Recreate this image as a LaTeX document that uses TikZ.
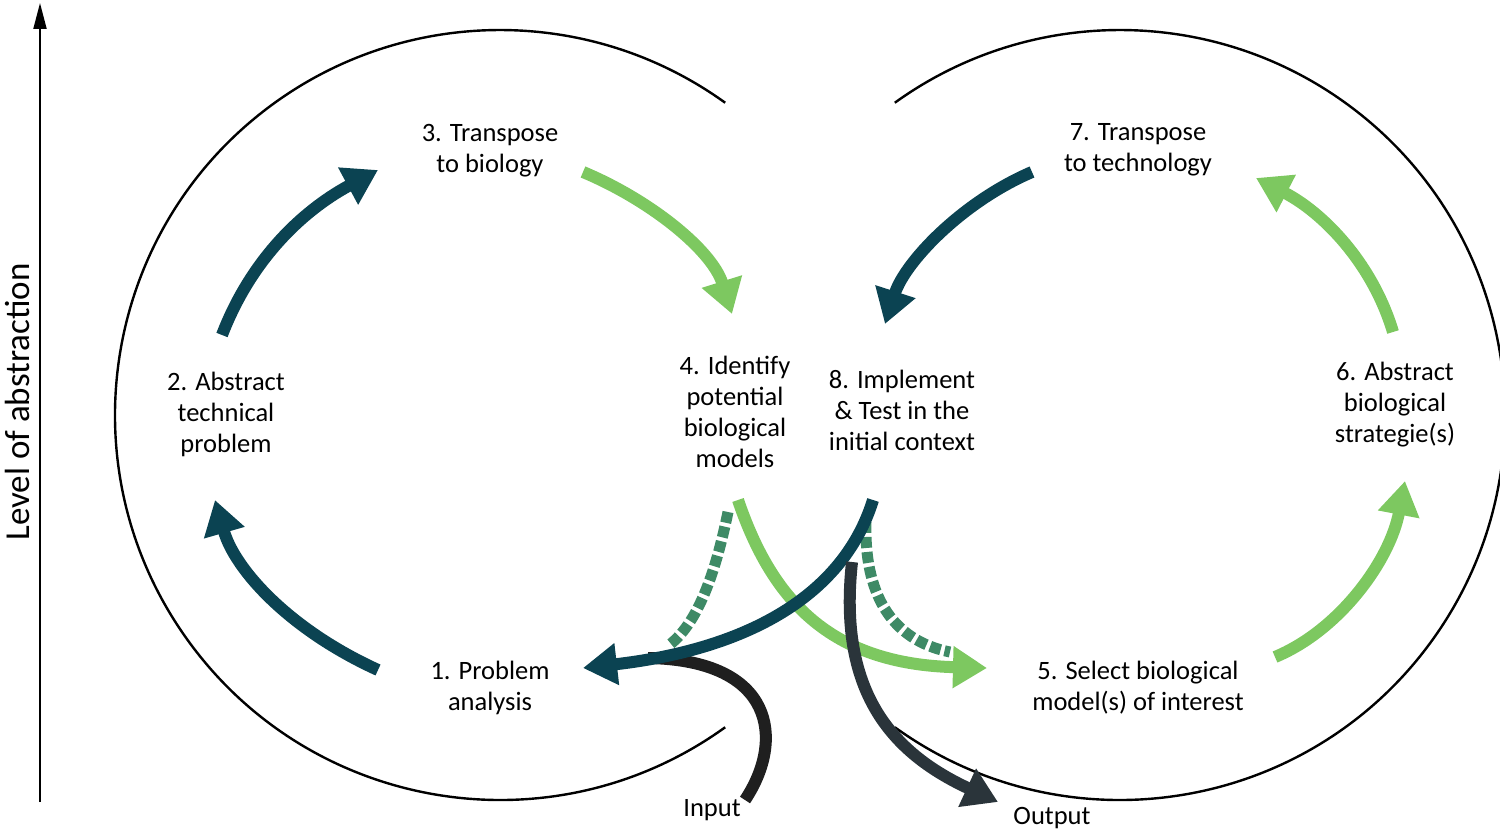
\documentclass[tikz,border=0pt]{standalone}
\usepackage{fontspec}
\setmainfont{Carlito}
\usetikzlibrary{arrows.meta}
\definecolor{teal}{HTML}{0B4352}
\definecolor{lgreen}{HTML}{7DC860}
\definecolor{mgreen}{HTML}{3E8A66}
\definecolor{outc}{HTML}{2A343A}
\begin{document}
\begin{tikzpicture}[x=1pt,y=-1pt,
  lbl/.style={align=center,font=\fontsize{26.5}{31}\selectfont,inner sep=0pt},
  big/.style={line width=12pt,-{Triangle[width=40pt,length=34pt]}},
  dsh/.style={line width=11pt,dash pattern=on 11pt off 4pt,mgreen},
  ring/.style={line width=2.4pt,black}]
\useasboundingbox (0,0) rectangle (1500,834);
% rings
\coordinate (lc) at (500,415);
\coordinate (rc) at (1120,415);
\draw[ring] (lc) ++(54.2:385) arc[start angle=54.2,end angle=305.8,radius=385];
\draw[ring] (rc) ++(125.8:385) arc[start angle=125.8,end angle=-125.8,radius=385];
% axis
\coordinate (ax0) at (40,802); \coordinate (ax1) at (40,3);
\draw[line width=2pt,-{Triangle[length=26pt,width=13pt]}] (ax0) -- (ax1);
\node[lbl,rotate=90,font=\fontsize{35}{40}\selectfont] (axl) at (17,402) {Level of abstraction};
% labels
\node[lbl] (n1) at (490,688) {1. Problem\\analysis};
\node[lbl] (n2) at (226,414) {2. Abstract\\technical\\problem};
\node[lbl] (n3) at (490,151) {3. Transpose\\to biology};
\node[lbl] (n4) at (735,412) {4. Identify\\potential\\biological\\models};
\node[lbl] (n8) at (902,410) {8. Implement\\\& Test in the\\initial context};
\node[lbl] (n7) at (1138,150) {7. Transpose\\to technology};
\node[lbl] (n6) at (1395,405) {6. Abstract\\biological\\strategie(s)};
\node[lbl] (n5) at (1138,688) {5. Select biological\\model(s) of interest};
\node[lbl] (in) at (712,810) {Input};
\node[lbl] (out) at (1052,818) {Output};
% outer arrows
\draw[big,teal] (378,670) .. controls (290,630) and (235,570) .. (215,500);
\draw[big,teal] (222,335) .. controls (250,262) and (300,212) .. (378,170);
\draw[big,lgreen] (583,172) .. controls (650,200) and (712,250) .. (732,314);
\draw[big,teal] (1032,172) .. controls (962,202) and (905,262) .. (885,324);
\draw[big,lgreen] (1393,332) .. controls (1372,262) and (1322,212) .. (1256,178);
\draw[big,lgreen] (1275,657) .. controls (1340,630) and (1390,560) .. (1405,481);
% center
\draw[dsh] (728,512) .. controls (712,590) and (692,628) .. (668,646);
\draw[dsh] (866,522) .. controls (864,592) and (890,640) .. (950,652);
\draw[big,lgreen] (738,500) .. controls (772,600) and (830,664) .. (987,668);
\draw[line width=12pt,black!88] (745,800) .. controls (785,740) and (775,660) .. (648,658);
\draw[big,teal] (873,500) .. controls (842,600) and (740,650) .. (583,668);
\draw[big,outc] (852,562) .. controls (838,690) and (890,752) .. (998,802);
\end{tikzpicture}
\end{document}
